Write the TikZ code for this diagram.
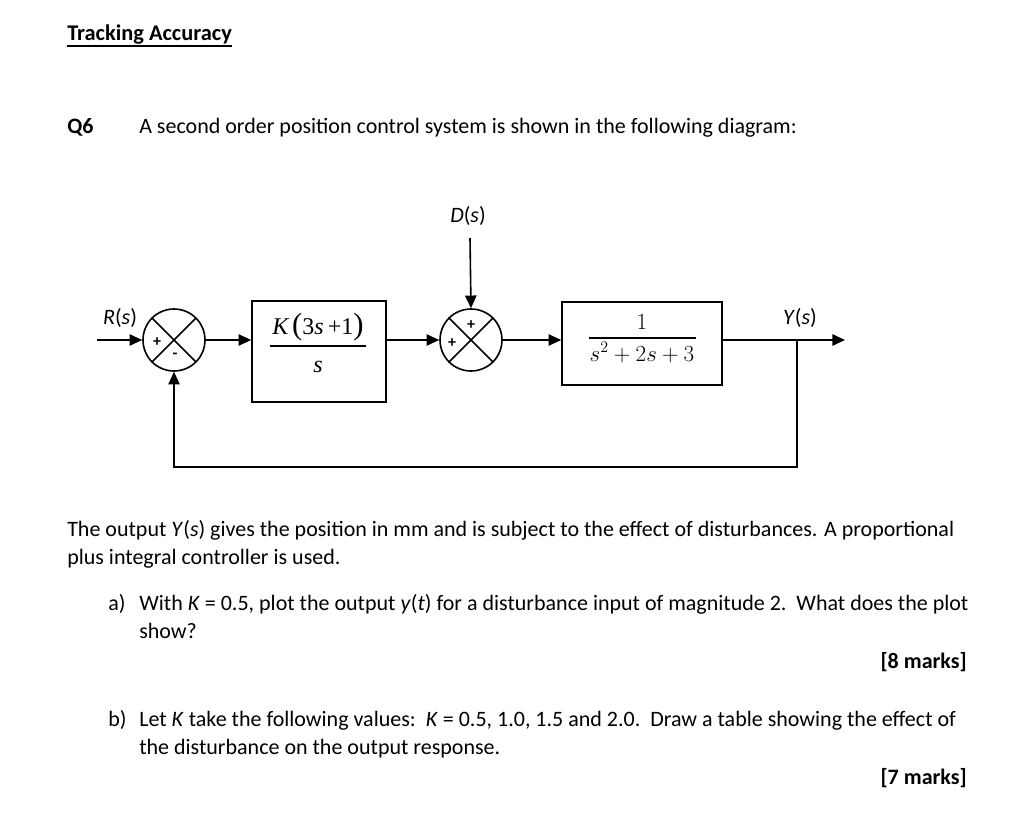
\documentclass[tikz,border=0pt]{standalone}
\usepackage{fontspec}
\setmainfont{Carlito}
\newfontfamily\tnr{Liberation Serif}
\usetikzlibrary{arrows.meta}
\begin{document}
\begin{tikzpicture}[x=0.75pt,y=-0.75pt,
  font=\fontsize{16.5}{20}\selectfont,
  txt/.style={anchor=base west, inner sep=0pt},
  rtxt/.style={anchor=base east, inner sep=0pt},
  ln/.style={line width=1.2pt},
  arr/.style={ln,-{Triangle[length=9.5pt,width=8.5pt]}},
  sumnode/.style={circle, draw, line width=1.2pt, minimum size=46.5pt, inner sep=0pt},
  blk/.style={draw, line width=1.2pt, inner sep=0pt},
  sign/.style={inner sep=0pt, font=\fontsize{12}{12}\selectfont\bfseries},
  lbl/.style={inner sep=0pt},
  blbl/.style={inner sep=0pt, anchor=base}]
\useasboundingbox (0,0) rectangle (1033,817);

% heading
\node[txt, font=\fontsize{16.8}{20}\selectfont\bfseries] (title) at (67,41) {Tracking Accuracy};
\draw[line width=1.3pt] (title.base west) ++(0,5) coordinate (ul1) -- (title.base east |- ul1);
\node[txt, font=\fontsize{16.5}{20}\selectfont\bfseries] (q6) at (67,133) {Q6};
\node[txt] (intro) at (139,133) {A second order position control system is shown in the following diagram:};

% block diagram
\node[sumnode] (s1) at (174,340) {};
\draw[ln] (s1.45) -- (s1.225);
\draw[ln] (s1.135) -- (s1.-45);
\node[sign] (p1) at (157,342) {+};
\node[sign] (m1) at (175,356) {-};

\node[blk, minimum width=100.5pt, minimum height=75.75pt] (b1) at (319,351.5) {};
\node[blbl, font=\tnr\fontsize{18}{18}\selectfont] (b1num) at (318,334) {\textit{K}\kern2pt{\fontsize{23}{23}\selectfont(}3\textit{s}\kern3pt+1{\fontsize{23}{23}\selectfont)}};
\draw[line width=0.9pt] (270,346) coordinate (fl1) -- (366,346) coordinate (fl2);
\node[blbl, font=\tnr\fontsize{18}{18}\selectfont] (b1den) at (318,372) {\textit{s}};

\node[sumnode] (s2) at (471,340) {};
\draw[ln] (s2.45) -- (s2.225);
\draw[ln] (s2.135) -- (s2.-45);
\node[sign] (p2) at (471,325) {+};
\node[sign] (p3) at (452,343) {+};

\node[blk, minimum width=120pt, minimum height=62.25pt] (b2) at (642,343.5) {};
\node[blbl, font=\fontsize{17.5}{17.5}\selectfont] (b2num) at (642,329) {$1$};
\draw[line width=1.2pt] (589,338) coordinate (fl3) -- (696,338) coordinate (fl4);
\node[blbl, font=\fontsize{17.5}{17.5}\selectfont] (b2den) at (642,361) {$s^2+2s+3$};

\coordinate (rin) at (97,340);
\coordinate (din) at (470,238);
\coordinate (yout) at (845,340);
\coordinate (fb) at (797,340);
\coordinate (fbc) at (797,467);

\node[lbl] (rl) at (120,318) {\textit{R}(\textit{s})};
\node[lbl] (dl) at (468,216) {\textit{D}(\textit{s})};
\node[lbl] (yl) at (800,318) {\textit{Y}(\textit{s})};

\draw[arr] (rin) -- (s1.west);
\draw[arr] (s1.east) -- (s1.east -| b1.west);
\draw[arr] (b1.east |- s2.west) -- (s2.west);
\draw[arr] (s2.east) -- (s2.east -| b2.west);
\draw[arr] (b2.east |- yout) -- (yout);
\draw[arr] (din) -- (s2.north);
\draw[arr] (fb) -- (fbc) -| (s1.south);

% text
\node[txt] (t1) at (67,536) {The output \textit{Y}(\textit{s}) gives the position in mm and is subject to the effect of disturbances. A proportional};
\node[txt] (t2) at (67,564) {plus integral controller is used.};
\node[txt] (a1) at (108,610) {a)};
\node[txt] (a2) at (139,610) {With \textit{K} = 0.5, plot the output \textit{y}(\textit{t}) for a disturbance input of magnitude 2.\ \ What does the plot};
\node[txt] (a3) at (139,638) {show?};
\node[rtxt, font=\fontsize{16.5}{20}\selectfont\bfseries] (m8) at (967,668) {[8 marks]};
\node[txt] (b1t) at (108,726) {b)};
\node[txt] (b2t) at (139,726) {Let \textit{K} take the following values:\ \ \textit{K} = 0.5, 1.0, 1.5 and 2.0.\ \ Draw a table showing the effect of};
\node[txt] (b3t) at (139,754) {the disturbance on the output response.};
\node[rtxt, font=\fontsize{16.5}{20}\selectfont\bfseries] (m7) at (967,784) {[7 marks]};
\end{tikzpicture}
\end{document}
